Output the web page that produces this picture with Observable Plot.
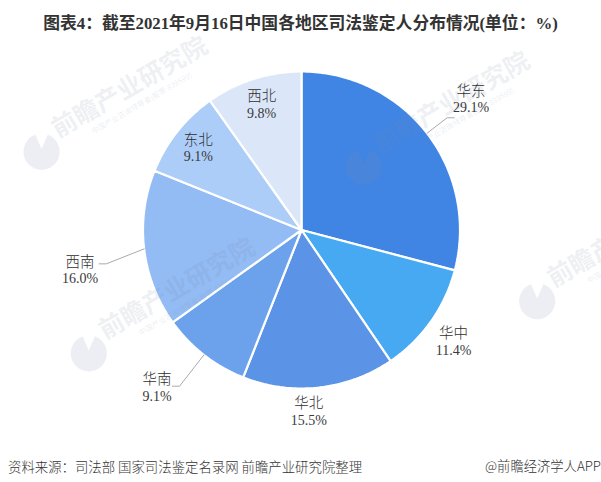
<!DOCTYPE html>
<html><head><meta charset="utf-8">
<script src="https://cdn.jsdelivr.net/npm/d3@7"></script>
<script src="https://cdn.jsdelivr.net/npm/@observablehq/plot@0.6"></script>
<style>
html,body{margin:0;padding:0;background:#fff;width:601px;height:482px;overflow:hidden}
#title{height:44px;text-align:center;font:bold 16.8px/47px "Liberation Serif","Noto Sans CJK SC";color:#333;white-space:nowrap}
#chart{height:396px}
#chart svg{display:block;overflow:visible}
#foot{position:relative;height:42px;font:13.4px/52px "Noto Sans CJK SC";font-weight:300;color:#333}
#foot .l{position:absolute;left:8px;white-space:pre}
#foot .r{position:absolute;right:0;font-size:13.3px}
</style></head><body>
<div id="title">图表4：截至2021年9月16日中国各地区司法鉴定人分布情况(单位：%)</div>
<div id="chart"></div>
<div id="foot"><span class="l">资料来源：司法部 国家司法鉴定名录网 前瞻产业研究院整理</span><span class="r">@前瞻经济学人APP</span></div>
<script>
const regions = ["华东","华中","华北","华南","西南","东北","西北"];
const shares = [29.1,11.4,15.5,9.1,16.0,9.1,9.8];
const colors = ["#4085E4","#46A9F2","#5B94E6","#6CA2EC","#93BBF4","#ADCDF9","#DBE7F8"];
const labelRadius = [1.35,1.19,1.15,1.35,1.42,0.83,0.83];
const labelTurn = [0,1,4,4.5,-3.5,0,0];
const leaderSlices = ["华东","华南","西南"];
const watermarkName = "前瞻产业研究院";
const watermarkSub = "中国产业咨询领导者(股票:839599)";

const pie = d3.pie().sort(null).value(d => d)(shares);
const polar = (deg, r) => ({x: r*Math.sin(deg*Math.PI/180), y: r*Math.cos(deg*Math.PI/180)});
const sliceRows = pie.flatMap((a,i) => {
  const s = a.startAngle*180/Math.PI, e = a.endAngle*180/Math.PI, n = Math.ceil(e-s);
  return [{...polar(0,0),region:regions[i]},
    ...d3.range(n+1).map(k => ({...polar(s+(e-s)*k/n,1),region:regions[i]})),
    {...polar(0,0),region:regions[i]}];
});
const mid = a => (a.startAngle+a.endAngle)/2*180/Math.PI;
const labels = pie.map((a,i)=>({region:regions[i],pct:shares[i].toFixed(1)+"%",...polar(mid(a)+labelTurn[i],labelRadius[i])}));
const leaders = leaderSlices.flatMap(name=>{
  const i = regions.indexOf(name), m = mid(pie[i]);
  const p0 = polar(m,1), p1 = polar(m+(name==="西南"?-3:0),name==="华东"?1.16:1.25);
  const side = p1.x>0?1:-1;
  return [{...p0,name},{...p1,name},{x:p1.x+side*0.045,y:p1.y,name}];
});
// watermark logos, names and tag lines, in radius units from the pie centre
const anchors = [[-1.64,0.494],[0.392,0.399],[-1.342,-0.778],[1.487,-0.449]];
const logoR = 0.114;
const logoRows = anchors.flatMap(([x,y],i)=>[
  {x,y:y+logoR*0.15,id:i},
  ...d3.range(20,350,10).map(d=>({x:x+logoR*Math.sin(d*Math.PI/180),y:y+logoR*Math.cos(d*Math.PI/180),id:i})),
  {x,y:y+logoR*0.15,id:i}
]);
const wmName = anchors.map(([x,y])=>({x:x+0.557,y:y+0.405}));
const wmSub = anchors.map(([x,y])=>({x:x+0.633,y:y+0.304}));

const chart = Plot.plot({
  width:601,height:396,margin:0,
  x:{domain:[-1,1],range:[142.5,459.5],axis:null},
  y:{domain:[-1,1],range:[344,27],axis:null},
  color:{domain:regions,range:colors},
  marks:[
    Plot.line(sliceRows,{x:"x",y:"y",z:"region",fill:"region",stroke:"#fff",strokeWidth:2.2,strokeLinejoin:"miter"}),
    Plot.line(logoRows,{x:"x",y:"y",z:"id",fill:"#7a88a8",fillOpacity:0.14,stroke:"none"}),
    Plot.text(wmName,{x:"x",y:"y",text:()=>watermarkName,rotate:-30,fontSize:25,fontWeight:"bold",fill:"#7a88a8",fillOpacity:0.14,fontFamily:"Noto Sans CJK SC"}),
    Plot.text(wmSub,{x:"x",y:"y",text:()=>watermarkSub,rotate:-30,fontSize:7.5,fill:"#7a88a8",fillOpacity:0.16,fontFamily:"Noto Sans CJK SC",letterSpacing:"1.5px"}),
    Plot.line(leaders,{x:"x",y:"y",z:"name",stroke:"#aaa",strokeWidth:1}),
    Plot.text(labels,{x:"x",y:"y",text:"region",dy:-8.5,fontSize:14.5,fontWeight:300,fill:"#2f2f2f",fontFamily:"Noto Sans CJK SC"}),
    Plot.text(labels,{x:"x",y:"y",text:"pct",dy:8.5,fontSize:14,fill:"#3a3a3a",fontFamily:"Liberation Serif"})
  ]
});
document.getElementById("chart").append(chart);
</script></body></html>
